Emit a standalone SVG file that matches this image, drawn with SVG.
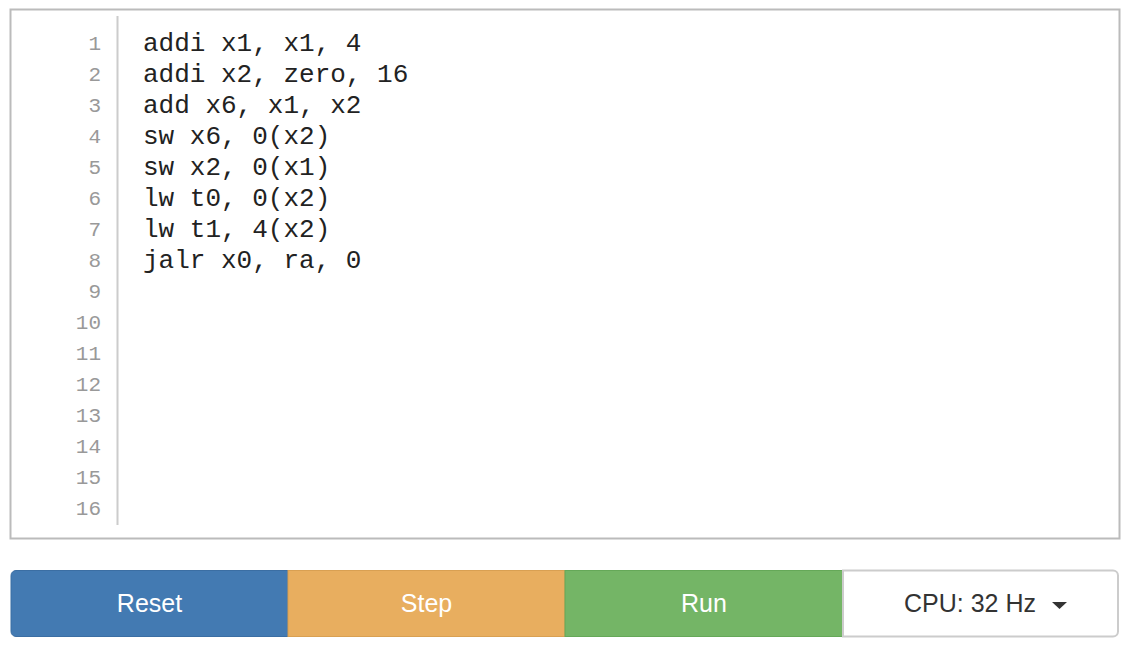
<svg xmlns="http://www.w3.org/2000/svg" width="1134" height="658" viewBox="0 0 1134 658">
<style>
.code{font-family:"Liberation Mono","DejaVu Sans Mono",monospace;font-size:26px;fill:#222}
.ln{font-family:"Liberation Mono","DejaVu Sans Mono",monospace;font-size:21px;fill:#999;text-anchor:end}
.btn{font-family:"Liberation Sans",Arial,sans-serif;font-size:25px;fill:#fff;text-anchor:middle}
</style>
<rect width="1134" height="658" fill="#fff"/>
<g id="editor">
<rect x="10.5" y="9.5" width="1109" height="529" fill="#fff" stroke="#bbb" stroke-width="2"/>
<line x1="117.5" y1="16" x2="117.5" y2="525" stroke="#ccc" stroke-width="2"/>
<g class="ln">
<text x="101" y="50">1</text><text x="101" y="81">2</text><text x="101" y="112">3</text><text x="101" y="143">4</text>
<text x="101" y="174">5</text><text x="101" y="205">6</text><text x="101" y="236">7</text><text x="101" y="267">8</text>
<text x="101" y="298">9</text><text x="101" y="329">10</text><text x="101" y="360">11</text><text x="101" y="391">12</text>
<text x="101" y="422">13</text><text x="101" y="453">14</text><text x="101" y="484">15</text><text x="101" y="515">16</text>
</g>
<g class="code">
<text x="143" y="51">addi x1, x1, 4</text>
<text x="143" y="82">addi x2, zero, 16</text>
<text x="143" y="113">add x6, x1, x2</text>
<text x="143" y="144">sw x6, 0(x2)</text>
<text x="143" y="175">sw x2, 0(x1)</text>
<text x="143" y="206">lw t0, 0(x2)</text>
<text x="143" y="237">lw t1, 4(x2)</text>
<text x="143" y="268">jalr x0, ra, 0</text>
</g>
</g>
<g id="reset"><path d="M16,570.5H288V636.5H16A5,5 0 0 1 11,631.5V575.5A5,5 0 0 1 16,570.5Z" fill="#437ab2" stroke="#3b6ea3"/><text class="btn" x="149.5" y="612">Reset</text></g>
<g id="step"><rect x="288" y="570.5" width="277" height="66" fill="#e8ae5f" stroke="#d9a052"/><text class="btn" x="426.5" y="612">Step</text></g>
<g id="run"><rect x="565" y="570.5" width="278" height="66" fill="#74b566" stroke="#65a858"/><text class="btn" x="704" y="612">Run</text></g>
<g id="cpu"><path d="M843,570.5H1113A5,5 0 0 1 1118,575.5V631.5A5,5 0 0 1 1113,636.5H843Z" fill="#fff" stroke="#ccc" stroke-width="2"/>
<text x="970" y="612" style="font-family:'Liberation Sans',Arial,sans-serif;font-size:25px;fill:#333;text-anchor:middle">CPU: 32 Hz</text>
<path d="M1052,602H1067L1059.5,609Z" fill="#333"/></g>
</svg>
